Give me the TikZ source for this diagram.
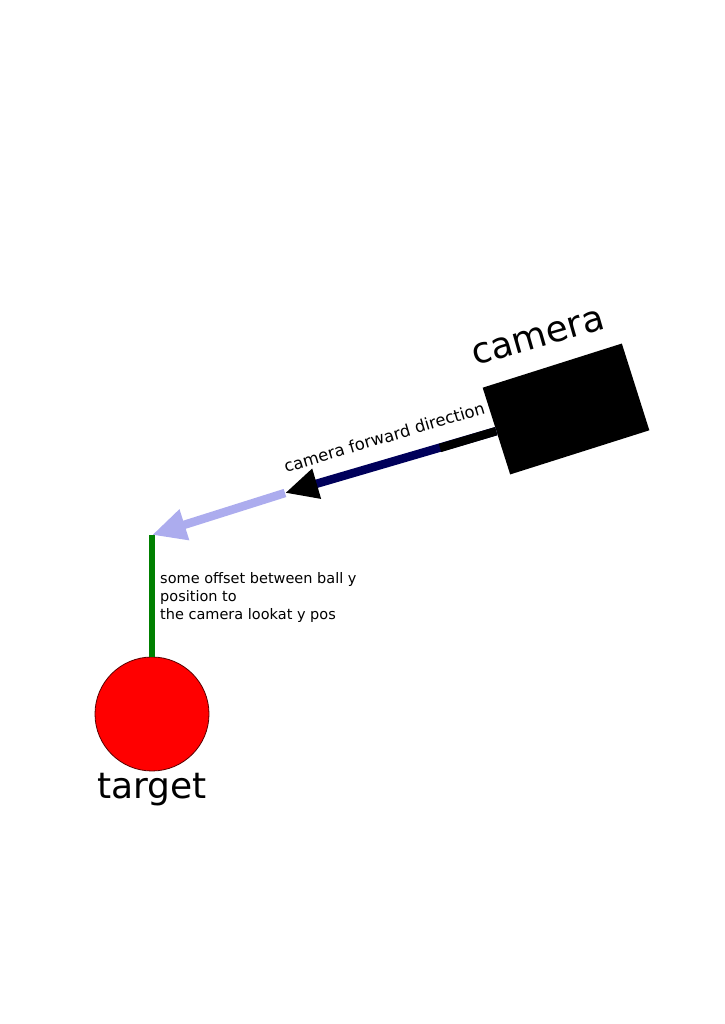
\documentclass[tikz,border=0pt]{standalone}
\usepackage{fontspec}
\setmainfont{DejaVu Sans}
\usetikzlibrary{positioning,arrows.meta}

\definecolor{fwdnavy}{RGB}{0,0,90}
\definecolor{lookblue}{RGB}{172,172,238}
\definecolor{offgreen}{RGB}{0,128,0}
\definecolor{balledge}{RGB}{90,0,0}

\begin{document}
\begin{tikzpicture}[x=1pt, y=1pt,
  fatline/.style={line width=8.5pt},
  biglabel/.style={font=\fontsize{36}{43}\selectfont, inner sep=0pt},
  smalllabel/.style={font=\fontsize{14.5}{18}\selectfont, inner sep=0pt}]
\useasboundingbox (0,0) rectangle (724,1024);

\def\xcam{566}
\def\ycam{615}
\def\xball{152}
\def\yball{310}

\node[fill=black, inner sep=0pt, minimum width=146pt, minimum height=91pt,
  rotate=17.6] (camera) at (\xcam, \ycam) {};
\node[circle, fill=red, draw=balledge, line width=0.8pt, inner sep=0pt,
  minimum size=114pt] (target) at (\xball, \yball) {};

\coordinate (fwdtip) at (285, 531);
\coordinate (fade) at (440, 576);
\coordinate (look) at (\xball, 489);

\node[biglabel, below=2pt of target] (targetlabel) {target};
\node[biglabel, anchor=base, rotate=16] (camlabel) at (541, 677) {camera};
\node[font=\fontsize{16.5}{20}\selectfont, inner sep=0pt, anchor=base,
  rotate=16.6] (fwdlabel) at (386, 581) {camera forward direction};
\node[smalllabel, anchor=north west, align=left] (offlabel) at (160, 452)
  {some offset between ball y\\position to\\the camera lookat y pos};

\draw[offgreen, line width=6pt] (look) -- (target.north);
\draw[fatline, lookblue, -{Triangle[length=34pt, width=30pt]}] (fwdtip) -- (look);
\draw[fatline, fwdnavy, -{Triangle[length=33pt, width=29pt, color=black]}]
  (camera.west) -- (fwdtip);
\draw[fatline, black] (camera.west) -- (fade);

\end{tikzpicture}
\end{document}
